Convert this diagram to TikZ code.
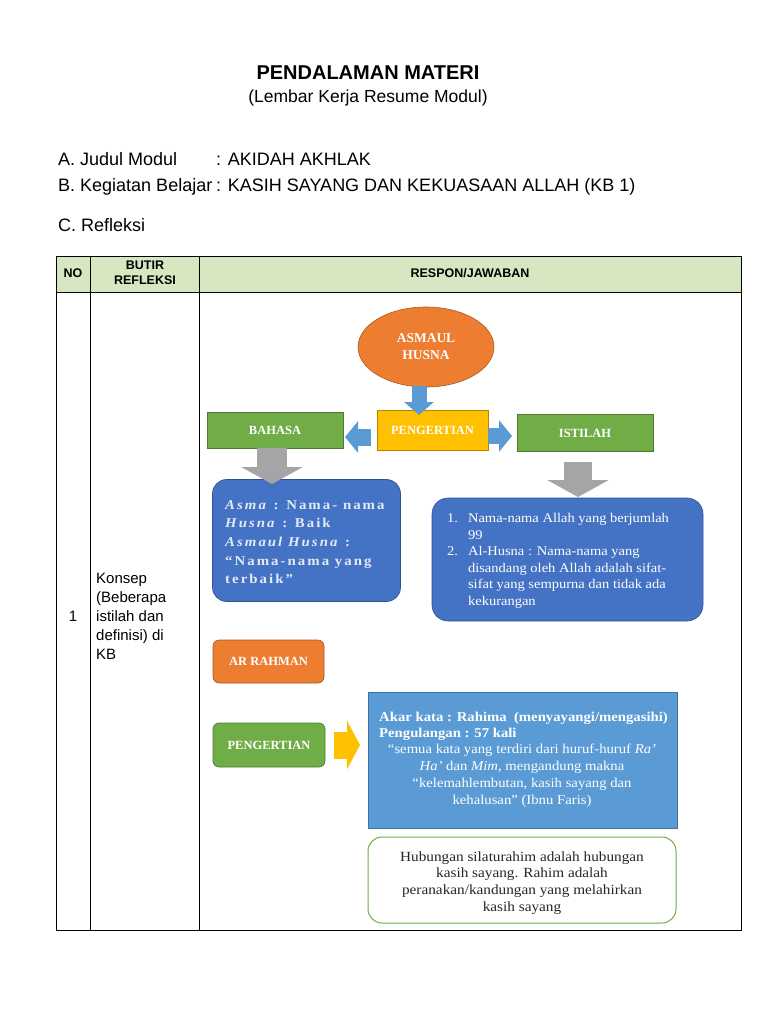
\documentclass[tikz,border=0pt]{standalone}
\usepackage{fontspec}
\setmainfont{Liberation Sans}
\newfontfamily\cam{Liberation Serif}
\newfontfamily\camw{Liberation Serif}[FakeStretch=1.09]
\newfontfamily\camsp{Liberation Serif}[FakeStretch=1.1,LetterSpace=15]
\usetikzlibrary{arrows.meta,shapes.geometric}
\definecolor{corange}{HTML}{ED7D31}
\definecolor{corangeb}{HTML}{AE5A21}
\definecolor{cgreen}{HTML}{70AD47}
\definecolor{cgreenb}{HTML}{507E32}
\definecolor{cyellow}{HTML}{FFC000}
\definecolor{cyellowb}{HTML}{BC8C00}
\definecolor{cblue}{HTML}{4472C4}
\definecolor{cblueb}{HTML}{2F528F}
\definecolor{clblue}{HTML}{5B9BD5}
\definecolor{clblueb}{HTML}{41719C}
\definecolor{cgray}{HTML}{A5A5A5}
\definecolor{chead}{HTML}{D6E7C2}
\definecolor{ctext}{HTML}{262626}
\begin{document}
\begin{tikzpicture}[x=1pt,y=-1pt,
  body/.style={font=\fontsize{18}{21}\selectfont, anchor=base west, inner sep=0},
  hdr/.style={font=\bfseries\fontsize{12.5}{15}\selectfont, inner sep=0, align=center},
  gridline/.style={line width=0.9pt, draw=black},
  flatbox/.style={rectangle, draw=#1!70!black, fill=#1, line width=0.6pt, text=white,
     font=\cam\bfseries\fontsize{12.5}{15}\selectfont, inner sep=0},
  roundbox/.style={flatbox=#1, rounded corners=6pt},
  blockar/.style n args={4}{line width=#1, draw=#4, -{Triangle[width=#2,length=#3]}},
]
\useasboundingbox (0,0) rectangle (768,1024);

% ---------- heading ----------
\node[font=\bfseries\fontsize{20}{24}\selectfont, anchor=base, inner sep=0] (title) at (368,80) {PENDALAMAN MATERI};
\node[font=\fontsize{17.5}{21}\selectfont, anchor=base, inner sep=0] (subtitle) at (368,103) {(Lembar Kerja Resume Modul)};
\node[body] (la) at (58,166) {A. Judul Modul};
\node[body] (lac) at (216,166) {: AKIDAH AKHLAK};
\node[body] (lb) at (58,192) {B. Kegiatan Belajar};
\node[body] (lbc) at (216,192) {: KASIH SAYANG DAN KEKUASAAN ALLAH (KB 1)};
\node[body] (lc) at (58,232) {C. Refleksi};

% ---------- table ----------
\fill[chead] (56,256) rectangle (741,292);
\draw[gridline] (56,256) rectangle (741,930);
\draw[gridline] (56,292) -- (741,292);
\draw[gridline] (90,256) -- (90,930);
\draw[gridline] (199,256) -- (199,930);
\node[hdr] (hno) at (73,273) {NO};
\node[hdr, font=\bfseries\fontsize{12.5}{15.5}\selectfont] (hbutir) at (145,273) {BUTIR\\REFLEKSI};
\node[hdr] (hresp) at (470,273) {RESPON/JAWABAN};
\node[font=\fontsize{15}{19}\selectfont, inner sep=0] (no1) at (73,616) {1};
\node[font=\fontsize{15}{19}\selectfont, inner sep=0, align=left, anchor=west] (butir1) at (96,616)
  {Konsep\\(Beberapa\\istilah dan\\definisi) di\\KB};

% ---------- diagram: Asmaul Husna ----------
\node[ellipse, draw=corangeb, fill=corange, line width=0.6pt, minimum width=136pt, minimum height=80pt,
      text=white, font=\cam\bfseries\fontsize{13.5}{17}\selectfont, align=center, inner sep=0] (asma) at (426,347) {ASMAUL\\HUSNA};
\node[flatbox=cyellow, minimum width=111pt, minimum height=40pt] (peng1) at (432.5,430) {PENGERTIAN};
\node[flatbox=cgreen, minimum width=136pt, minimum height=36pt] (bahasa) at (275,430) {BAHASA};
\node[flatbox=cgreen, minimum width=136pt, minimum height=37pt] (istilah) at (585,433) {ISTILAH};

\coordinate (d1s) at (419,386); \coordinate (d1e) at (419,415);
\coordinate (l1s) at (371,437); \coordinate (l1e) at (345,437);
\coordinate (r1s) at (488,436); \coordinate (r1e) at (512,436);
\coordinate (g1s) at (272,448); \coordinate (g1e) at (272,484);
\coordinate (g2s) at (578,462); \coordinate (g2e) at (578,497);

\node[rectangle, rounded corners=14pt, draw=cblueb, fill=cblue, line width=0.6pt,
      minimum width=188pt, minimum height=122pt, inner sep=0] (bbox) at (306.5,540.5) {};
\node[anchor=north west, inner sep=0, align=left, text=white!85!cblue,
      font=\camsp\bfseries\fontsize{13.5}{18.7}\selectfont] (btext) at (225,500)
  {\textit{Asma} : Nama- nama\\ \textit{Husna} : Baik\\ \textit{Asmaul Husna} :\\ \char"201C Nama-nama yang\\ terbaik\char"201D};

\node[rectangle, rounded corners=16pt, draw=cblueb, fill=cblue, line width=0.6pt,
      minimum width=271pt, minimum height=123pt, inner sep=0] (ibox) at (567.5,559.5) {};
\node[anchor=north west, inner sep=0, text=white, font=\camw\fontsize{13.3}{16.5}\selectfont] (itext) at (447,511)
  {\begin{tabular}{@{}l@{\hspace{10pt}}l@{}}
   1. & Nama-nama Allah yang berjumlah\\
      & 99\\
   2. & Al-Husna : Nama-nama yang\\
      & disandang oleh Allah adalah sifat-\\
      & sifat yang sempurna dan tidak ada\\
      & kekurangan
   \end{tabular}};

\draw[blockar={15pt}{29pt}{13pt}{clblue}] (d1s) -- (d1e);
\draw[blockar={17pt}{31pt}{13pt}{clblue}] (l1s) -- (l1e);
\draw[blockar={16pt}{31pt}{13pt}{clblue}] (r1s) -- (r1e);
\draw[blockar={30pt}{61pt}{17pt}{cgray}] (g1s) -- (g1e);
\draw[blockar={28pt}{61pt}{17pt}{cgray}] (g2s) -- (g2e);

% ---------- diagram: Ar Rahman ----------
\node[roundbox=corange, minimum width=111pt, minimum height=43pt] (arrahman) at (268.5,661.5) {AR RAHMAN};
\node[roundbox=cgreen, minimum width=112pt, minimum height=44pt] (peng2) at (269,745) {PENGERTIAN};
\node[rectangle, draw=clblueb, fill=clblue, line width=0.6pt, minimum width=309pt, minimum height=136pt, inner sep=0] (akar) at (522.5,760) {};
\node[anchor=north west, inner sep=0, align=left, text=white, font=\camw\bfseries\fontsize{13.5}{16}\selectfont] (akar1) at (379,712)
  {Akar kata : Rahima\ \ (menyayangi/mengasihi)\\ Pengulangan : 57 kali};
\node[anchor=north, inner sep=0, align=center, text=white, font=\camw\fontsize{13.5}{17}\selectfont] (akar2) at (522,744)
  {\char"201C semua kata yang terdiri dari huruf-huruf \textit{Ra\char"2019}\\
   \textit{Ha\char"2019} dan \textit{Mim}, mengandung makna\\
   \char"201C kelemahlembutan, kasih sayang dan\\
   kehalusan\char"201D\ (Ibnu Faris)};
\coordinate (y1s) at (334,745); \coordinate (y1e) at (360,745);
\draw[blockar={27pt}{48pt}{13pt}{cyellow}] (y1s) -- (y1e);

\node[rectangle, rounded corners=14pt, draw=cgreen, fill=white, line width=1pt, minimum width=308pt, minimum height=86pt,
      inner sep=0] (hub) at (522,880) {};
\node[text=ctext, font=\camw\fontsize{14}{16.8}\selectfont, align=center, inner sep=0] (hubtext) at (522,883)
  {Hubungan silaturahim adalah hubungan\\ kasih sayang. Rahim adalah\\ peranakan/kandungan yang melahirkan\\ kasih sayang};
\end{tikzpicture}
\end{document}
